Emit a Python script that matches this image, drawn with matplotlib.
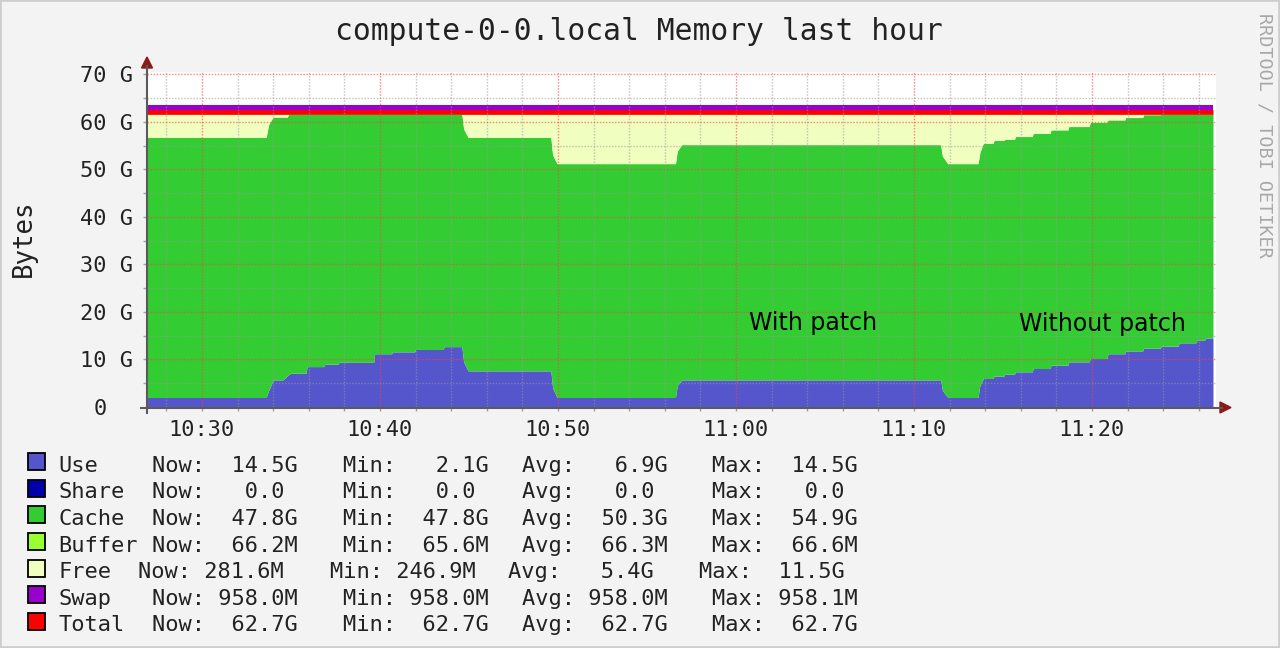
import matplotlib
matplotlib.use('Agg')
import matplotlib.pyplot as plt
from matplotlib.patches import Rectangle, Polygon
from matplotlib.lines import Line2D

# ---------------- data (minutes after 10:00, values in GB) ----------------
minutes = [26.9, 33.6, 33.75, 34.0, 34.55, 34.8, 34.85, 35.0,
           35.85, 35.9, 36.85, 36.9, 37.65, 37.7, 39.65, 39.7,
           40.65, 40.7, 41.95, 42.0, 43.55, 43.6, 44.6, 44.7, 44.95,
           49.6, 49.7, 49.95, 56.6, 56.7, 56.95, 71.5, 71.6, 71.9,
           73.6, 73.7, 73.9, 74.45, 74.5, 75.05, 75.1, 75.65, 75.7,
           76.65, 76.7, 77.65, 77.7, 78.65, 78.7, 79.85, 79.9, 80.85,
           80.9, 81.85, 81.9, 82.85, 82.9, 83.85, 83.9, 84.85, 84.9,
           85.85, 85.9, 86.35, 86.4, 86.8]
use_g = [2.0, 2.0, 3.5, 5.7, 5.7, 6.6, 6.8, 7.1,
         7.1, 8.5, 8.5, 9.0, 9.0, 9.4, 9.4, 11.2,
         11.2, 11.6, 11.6, 12.1, 12.1, 12.7, 12.7, 9.5, 7.6,
         7.6, 4.0, 2.0, 2.0, 4.5, 5.7, 5.7, 3.5, 2.0,
         2.0, 4.5, 6.0, 6.0, 6.5, 6.5, 6.9, 6.9, 7.4,
         7.4, 8.1, 8.1, 8.8, 8.8, 9.5, 9.5, 10.2, 10.2,
         11.2, 11.2, 11.8, 11.8, 12.4, 12.4, 12.8, 12.8, 13.5,
         13.5, 14.1, 14.1, 14.5, 14.5]
used_cache_g = [56.7, 56.7, 59.5, 61.0, 61.0, 61.0, 61.6, 61.6,
                61.6, 61.6, 61.6, 61.6, 61.6, 61.6, 61.6, 61.6,
                61.6, 61.6, 61.6, 61.6, 61.6, 61.6, 61.6, 58.5, 56.7,
                56.7, 53.0, 51.2, 51.2, 53.8, 55.2, 55.2, 52.8, 51.2,
                51.2, 53.5, 55.5, 55.5, 56.1, 56.1, 56.3, 56.3, 56.9,
                56.9, 57.6, 57.6, 58.3, 58.3, 59.0, 59.0, 59.9, 59.9,
                60.4, 60.4, 60.9, 60.9, 61.5, 61.5, 61.6, 61.6, 61.6,
                61.6, 61.6, 61.6, 61.6, 61.6]
free_top_g = 61.65
swap_top_g = 63.6
total_g = 62.1

x_major = [30, 40, 50, 60, 70, 80]
x_labels = ['10:30', '10:40', '10:50', '11:00', '11:10', '11:20']
x_minor = [28, 32, 34, 36, 38, 42, 44, 46, 48, 52, 54, 56, 58, 62, 64, 66,
           68, 72, 74, 76, 78, 82, 84, 86]
y_major = [10, 20, 30, 40, 50, 60, 70]
y_minor = [5, 15, 25, 35, 45, 55, 65]
y_label_vals = [0, 10, 20, 30, 40, 50, 60, 70]
y_labels = ['0', '10 G', '20 G', '30 G', '40 G', '50 G', '60 G', '70 G']

legend_labels = ['Use', 'Share', 'Cache', 'Buffer', 'Free', 'Swap', 'Total']
legend_colors = ['#5555cc', '#0000aa', '#33cc33', '#99ff33', '#f0ffc0',
                 '#9900cc', '#ff0000']
now_vals = ['14.5G', '0.0', '47.8G', '66.2M', '281.6M', '958.0M', '62.7G']
min_vals = ['2.1G', '0.0', '47.8G', '65.6M', '246.9M', '958.0M', '62.7G']
avg_vals = ['6.9G', '0.0', '50.3G', '66.3M', '5.4G', '958.0M', '62.7G']
max_vals = ['14.5G', '0.0', '54.9G', '66.6M', '11.5G', '958.1M', '62.7G']

# ---------------- figure ----------------
W, H = 1280, 648
BG = '#f3f3f3'
MONO = 'DejaVu Sans Mono'
TXT = '#222222'
fig = plt.figure(figsize=(12.8, 6.48), dpi=100, facecolor=BG)


def fx(x):
    return x / W


def fy(y):
    return 1 - y / H


# outer frame
fig.add_artist(Rectangle((0, 0), 1, 1, transform=fig.transFigure,
                         fill=False, edgecolor='#cdcdcd', linewidth=2.6))

ax = fig.add_axes([fx(147), fy(407), (1216 - 147) / W, (407 - 72) / H])
ax.set_facecolor('white')
ax.set_xlim(26.91, 86.97)
ax.set_ylim(0, 70.48)
for s in ax.spines.values():
    s.set_visible(False)

# stacked areas
ax.fill_between(minutes, 0, use_g, color='#5555cc', lw=0, zorder=1)
ax.fill_between(minutes, use_g, used_cache_g, color='#33cc33', lw=0, zorder=1)
ax.fill_between(minutes, used_cache_g, free_top_g, color='#f0ffc0', lw=0,
                zorder=1)
ax.fill_between([minutes[0], minutes[-1]], free_top_g, swap_top_g,
                color='#9900cc', lw=0, zorder=1)
ax.hlines(total_g, minutes[0], minutes[-1], color='#ff0000', lw=3.4,
          zorder=1.5, capstyle='butt')

# grid
ax.set_xticks(x_major)
ax.set_xticks(x_minor, minor=True)
ax.set_yticks(y_major)
ax.set_yticks(y_minor, minor=True)
ax.set_axisbelow(False)
ax.grid(which='major', color='#ff4040', alpha=0.6, lw=1.0,
        linestyle=(0, (1.1, 1.1)))
ax.grid(which='minor', color='#9a9a9a', alpha=0.55, lw=1.0,
        linestyle=(0, (1.1, 1.1)))
ax.tick_params(which='both', direction='out', length=3.0, width=1.0,
               color='#a0a0a0', labelleft=False, pad=6.0)
ax.set_xticklabels(x_labels, fontfamily=MONO, fontsize=15.8, color=TXT)

# y labels
for v, lab in zip(y_label_vals, y_labels):
    xo = -14 if ' ' in lab else -40.4
    ax.text(xo / 1069, v, lab, transform=ax.get_yaxis_transform(),
            ha='right', va='center_baseline', fontfamily=MONO,
            fontsize=15.8, color=TXT)

# annotations
ax.text(60.76, 16.2, 'With patch', fontsize=17, fontfamily='DejaVu Sans',
        color='black', ha='left', va='baseline', zorder=6)
ax.text(75.9, 16.0, 'Without patch', fontsize=17, fontfamily='DejaVu Sans',
        color='black', ha='left', va='baseline', zorder=6)

# axis lines with arrows
axis_col = '#5a5a5a'
arrow_col = '#8b1a1a'
fig.add_artist(Line2D([fx(147), fx(147)], [fy(413), fy(66)], color=axis_col,
                      lw=1.5, transform=fig.transFigure))
fig.add_artist(Line2D([fx(141), fx(1222)], [fy(407.5), fy(407.5)],
                      color=axis_col, lw=1.5, transform=fig.transFigure))
fig.add_artist(Polygon([(fx(147), fy(57)), (fx(141.5), fy(68)),
                        (fx(152.5), fy(68))], closed=True, color=arrow_col,
                       transform=fig.transFigure))
fig.add_artist(Polygon([(fx(1231), fy(407.5)), (fx(1220), fy(402)),
                        (fx(1220), fy(413))], closed=True, color=arrow_col,
                       transform=fig.transFigure))

# title, unit label, watermark
fig.text(fx(639), fy(40), 'compute-0-0.local Memory last hour', ha='center',
         va='baseline', fontfamily=MONO, fontsize=21.3, color=TXT)
fig.text(fx(24), fy(238.3), 'Bytes', rotation=90, ha='center', va='center',
         fontfamily=MONO, fontsize=18.5, color=TXT)
fig.text(fx(1264), fy(135), 'RRDTOOL / TOBI OETIKER', rotation=-90,
         ha='center', va='center', fontfamily=MONO, fontsize=13.3,
         color='#a8a8a8')

# legend
group_x = [151.7, 343.3, 521.7, 712.3]
row_shift = [0, 0, 0, 0, -13.4, 0, 0]
names = ['Now:', 'Min:', 'Avg:', 'Max:']


def fmt(name, v):
    vv = v if v[-1].isalpha() else v + ' '
    return f"{name}{vv:>7}"


for i, lab in enumerate(legend_labels):
    base = 471.7 + i * 26.6
    fig.add_artist(Rectangle((fx(28.2), fy(base - 1.5)), 17.0 / W, 17.0 / H,
                             transform=fig.transFigure,
                             facecolor=legend_colors[i], edgecolor='black',
                             linewidth=1.3))
    fig.text(fx(58.3), fy(base), lab, ha='left', va='baseline',
             fontfamily=MONO, fontsize=15.8, color=TXT)
    vals = [now_vals[i], min_vals[i], avg_vals[i], max_vals[i]]
    for gx, nm, v in zip(group_x, names, vals):
        fig.text(fx(gx + row_shift[i]), fy(base), fmt(nm, v), ha='left',
                 va='baseline', fontfamily=MONO, fontsize=15.8, color=TXT)

fig.savefig('out.png', dpi=100, facecolor=BG)
